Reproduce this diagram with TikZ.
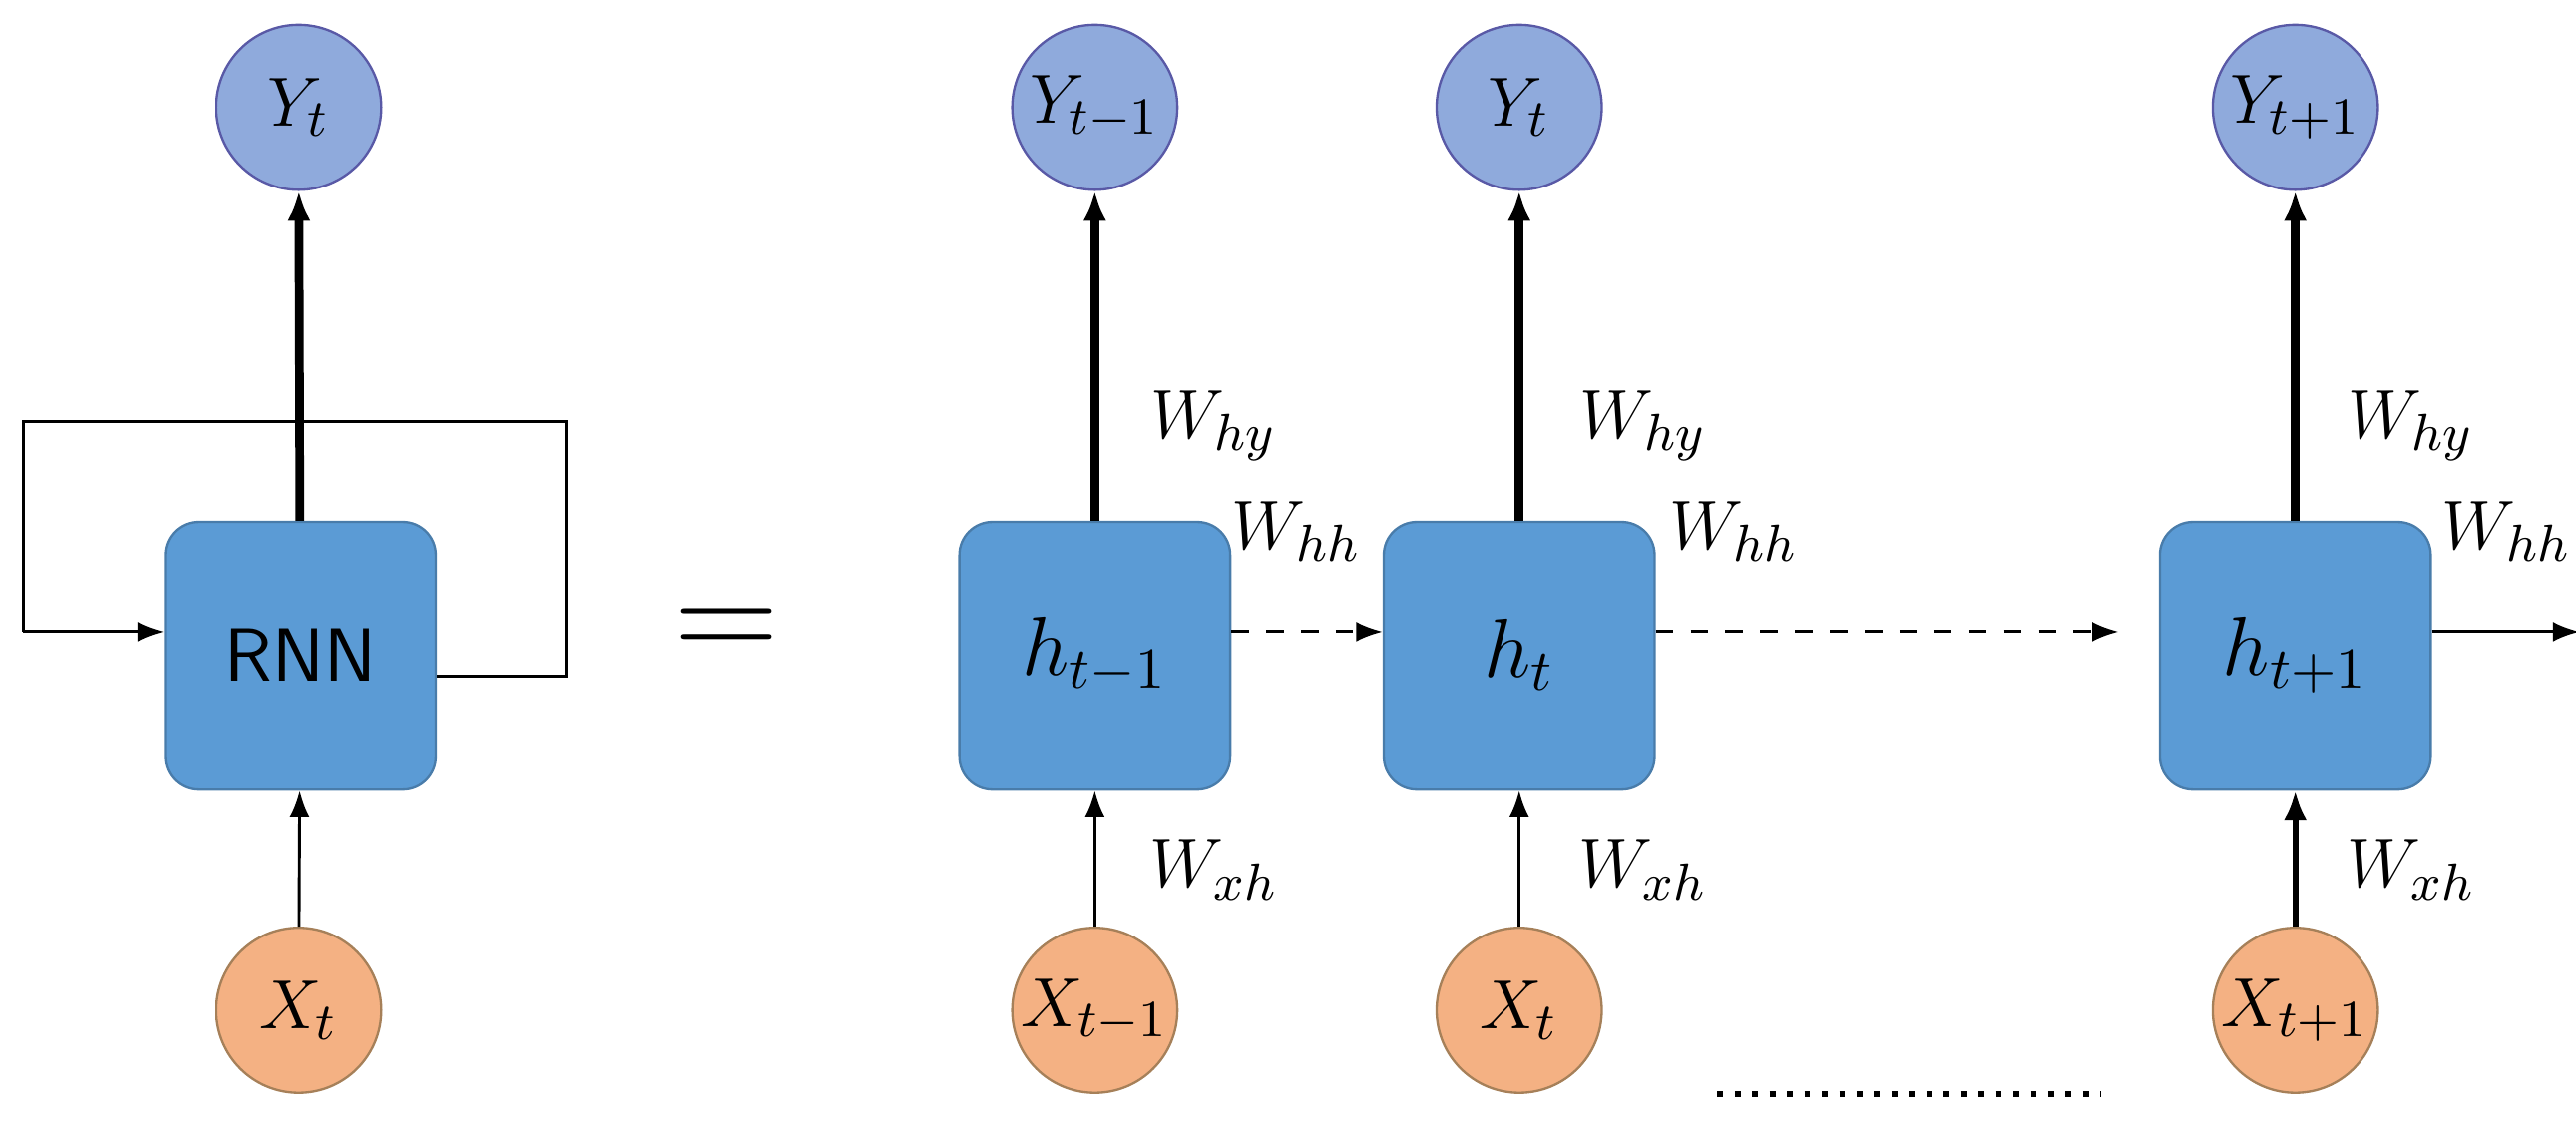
\documentclass[tikz,border=0pt]{standalone}
\usetikzlibrary{arrows.meta}
\definecolor{outc}{HTML}{8FAADC}
\definecolor{inc}{HTML}{F4B183}
\definecolor{cellc}{HTML}{5B9BD5}
\tikzset{
  outn/.style={circle,draw=gray!70!blue,fill=outc,minimum size=1cm,inner sep=-2pt,font=\fontsize{13}{15}\selectfont},
  inn/.style={circle,draw=gray!70!orange,fill=inc,minimum size=1cm,inner sep=-2pt,font=\fontsize{13}{15}\selectfont},
  cell/.style={rounded corners=0.2cm,draw=cellc!80!black,fill=cellc,minimum width=1.64cm,minimum height=1.62cm,font=\fontsize{14}{16}\selectfont},
  wlab/.style={font=\fontsize{12.5}{15}\selectfont},
  arr/.style={-{Latex[length=0.16cm,width=0.12cm]},line width=0.5pt},
  tarr/.style={-{Latex[length=0.18cm,width=0.14cm]},line width=1.5pt}
}
\begin{document}
\begin{tikzpicture}
\useasboundingbox (0,0) rectangle (15.6,6.8);
% folded network
\node[cell,font=\fontsize{13}{15}\sffamily] (rnn) at (1.82,2.83) {RNN};
\node[outn] (yf) at (1.81,6.15) {$Y_t$};
\node[inn] (xf) at (1.81,0.68) {$X_t$};
\draw[tarr] (rnn) -- (yf);
\draw[arr] (xf) -- (rnn);
\coordinate (lr) at (3.43,2.70);
\coordinate (ll) at (0.14,2.97);
\draw[line width=0.5pt] (rnn.east |- lr) -- (lr) |- (0.14,4.25) -- (ll);
\draw[arr] (ll) -- (rnn.west |- ll);
\node[font=\fontsize{30}{34}\selectfont] (eq) at (4.40,2.95) {$=$};
% unrolled network
\node[cell] (h1) at (6.63,2.83) {$h_{t-1}$};
\node[cell] (h2) at (9.20,2.83) {$h_t$};
\node[cell] (h3) at (13.90,2.83) {$h_{t+1}$};
\node[outn] (y1) at (6.63,6.15) {$Y_{t-1}$};
\node[outn] (y2) at (9.20,6.15) {$Y_t$};
\node[outn] (y3) at (13.90,6.15) {$Y_{t+1}$};
\node[inn] (x1) at (6.63,0.68) {$X_{t-1}$};
\node[inn] (x2) at (9.20,0.68) {$X_t$};
\node[inn] (x3) at (13.90,0.68) {$X_{t+1}$};
\foreach \i in {1,2,3} {
  \draw[tarr] (h\i) -- (y\i);
}
\draw[arr] (x1) -- (h1);
\draw[arr] (x2) -- (h2);
\draw[tarr,line width=1pt] (x3) -- (h3);
\node[wlab] (wy1) at (7.35,4.22) {$W_{hy}$};
\node[wlab] (wy2) at (9.95,4.22) {$W_{hy}$};
\node[wlab] (wy3) at (14.60,4.22) {$W_{hy}$};
\node[wlab] (wx1) at (7.35,1.53) {$W_{xh}$};
\node[wlab] (wx2) at (9.95,1.53) {$W_{xh}$};
\node[wlab] (wx3) at (14.60,1.53) {$W_{xh}$};
\node[wlab] (wh1) at (7.85,3.58) {$W_{hh}$};
\node[wlab] (wh2) at (10.50,3.58) {$W_{hh}$};
\node[wlab] (wh3) at (15.18,3.58) {$W_{hh}$};
\coordinate (gap) at (12.83,2.97);
\coordinate (endr) at (15.62,2.97);
\draw[arr,dashed] (h1.east |- gap) -- (h2.west |- gap);
\draw[arr,dashed] (h2.east |- gap) -- (gap);
\draw[arr] (h3.east |- endr) -- (endr);
\coordinate (d1) at (10.40,0.17);
\coordinate (d2) at (12.72,0.17);
\draw[line width=1pt,dotted] (d1) -- (d2);
\end{tikzpicture}
\end{document}
